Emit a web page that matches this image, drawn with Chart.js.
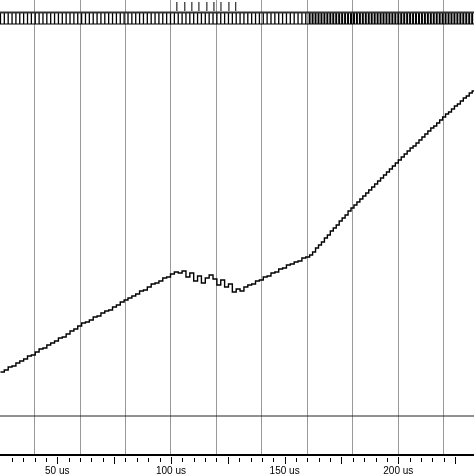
<!DOCTYPE html>
<html><head><meta charset="utf-8">
<script src="https://cdn.jsdelivr.net/npm/chart.js@4.4.1/dist/chart.umd.min.js"></script>
<style>html,body{margin:0;padding:0;background:#fff}canvas{display:block}</style>
</head><body>
<canvas id="c" width="474" height="474" style="width:474px;height:474px"></canvas>
<script>
// ---- data ----
const sampleTimes = [
  25.0, 26.7, 28.4, 30.1, 31.8, 33.5, 35.2, 36.9, 38.6, 40.3,
  42.0, 43.7, 45.4, 47.1, 48.8, 50.5, 52.2, 53.9, 55.6, 57.3,
  59.0, 60.7, 62.4, 64.1, 65.8, 67.5, 69.2, 70.9, 72.6, 74.3,
  76.0, 77.7, 79.4, 81.1, 82.8, 84.5, 86.2, 87.9, 89.6, 91.3,
  93.0, 94.7, 96.4, 98.1, 99.8, 101.5, 103.2, 104.9, 106.6, 108.3,
  110.0, 111.7, 113.4, 115.1, 116.8, 118.5, 120.2, 121.9, 123.6, 125.3,
  127.0, 128.7, 130.4, 132.1, 133.8, 135.5, 137.2, 138.9, 140.6, 142.3,
  144.0, 145.7, 147.4, 149.1, 150.8, 152.5, 154.2, 155.9, 157.6, 159.3,
  161.0, 162.3, 163.6, 164.9, 166.2, 167.5, 168.8, 170.1, 171.4, 172.7,
  174.0, 175.3, 176.6, 177.9, 179.2, 180.5, 181.8, 183.1, 184.4, 185.7,
  187.0, 188.3, 189.6, 190.9, 192.2, 193.5, 194.8, 196.1, 197.4, 198.7,
  200.0, 201.3, 202.6, 203.9, 205.2, 206.5, 207.8, 209.1, 210.4, 211.7,
  213.0, 214.3, 215.6, 216.9, 218.2, 219.5, 220.8, 222.1, 223.4, 224.7,
  226.0, 227.3, 228.6, 229.9, 231.2, 232.5, 233.8
];
const sampleValues = [
  83, 85, 88, 89, 92, 94, 96, 99, 100, 103,
  106, 107, 110, 112, 114, 117, 118, 121, 124, 126,
  129, 132, 133, 135, 138, 139, 142, 144, 145, 148,
  150, 153, 155, 157, 159, 161, 164, 165, 168, 171,
  172, 174, 177, 178, 181, 183, 182, 184, 178, 182,
  174, 179, 172, 177, 180, 176, 170, 175, 168, 171,
  163, 166, 164, 168, 170, 171, 174, 175, 178, 179,
  182, 183, 186, 187, 190, 191, 193, 194, 197, 198,
  200, 203, 207, 210, 213, 217, 220, 224, 227, 230,
  234, 237, 240, 244, 247, 250, 253, 256, 259, 262,
  265, 268, 271, 274, 277, 280, 283, 286, 289, 292,
  295, 298, 301, 304, 307, 309, 312, 315, 318, 321,
  324, 327, 329, 332, 335, 338, 341, 343, 346, 349,
  351, 354, 357, 359, 362, 364, 367
];
const markerTimes = [102.6, 106.1, 109.2, 112.3, 115.8, 118.9, 122.0, 125.5, 128.5];
const labelValues = [50, 100, 150, 200];
const tickLabels = ['50 us', '100 us', '150 us', '200 us'];
const xMin = 24.8, xMax = 233.3;
const yMin = 0, yMax = 455;
const baselineLevel = 39;
const busLow = 431, busHigh = 442.5;
const markerLow = 444, markerHigh = 453;
const denseFrom = 160;

// ---- build datasets ----
const stepLine = sampleTimes.map((t, i) => ({x: t, y: sampleValues[i]}));
function edges(times, lo, hi) {
  const out = [];
  times.forEach(t => { out.push({x: t, y: lo}, {x: t, y: hi}, {x: t, y: null}); });
  return out;
}
const busEdgesSparse = edges(sampleTimes.filter(t => t < denseFrom), busLow, busHigh);
const busEdgesDense = edges(sampleTimes.filter(t => t >= denseFrom), busLow, busHigh);
const markerEdges = edges(markerTimes, markerLow, markerHigh);
const hline = v => [{x: xMin, y: v}, {x: xMax, y: v}];

const base = {type: 'line', pointRadius: 0, spanGaps: false, fill: false, borderColor: '#000'};

const tallTicks = {
  id: 'tallTicks',
  afterDraw(chart) {
    const s = chart.scales.x, ctx = chart.ctx, b = chart.chartArea.bottom;
    ctx.save();
    ctx.strokeStyle = '#000';
    ctx.lineWidth = 1;
    s.ticks.forEach(t => {
      const px = Math.round(s.getPixelForValue(t.value)) + 0.5;
      const tall = Math.abs(t.value / 25 - Math.round(t.value / 25)) < 1e-6;
      ctx.beginPath();
      ctx.moveTo(px, b + (tall ? 2 : 3));
      ctx.lineTo(px, b + (tall ? 9 : 7));
      ctx.stroke();
    });
    ctx.restore();
  }
};

new Chart(document.getElementById('c'), {
  data: {
    datasets: [
      {...base, data: hline(busHigh), borderWidth: 2, borderColor: '#333'},
      {...base, data: hline(busLow), borderWidth: 1},
      {...base, data: busEdgesSparse, borderWidth: 1.3},
      {...base, data: busEdgesDense, borderWidth: 2},
      {...base, data: markerEdges, borderWidth: 1},
      {...base, data: hline(baselineLevel), borderWidth: 1, borderColor: '#222'},
      {...base, data: stepLine, borderWidth: 1.4, stepped: true}
    ]
  },
  options: {
    responsive: false,
    animation: false,
    events: [],
    layout: {padding: 0},
    plugins: {legend: {display: false}, tooltip: {enabled: false}},
    scales: {
      x: {
        type: 'linear', min: xMin, max: xMax, offset: false,
        border: {display: true, color: '#000', width: 2},
        grid: {
          offset: false, drawTicks: true, tickLength: 8,
          color: c => (c.tick && Math.abs(c.tick.value / 20 - Math.round(c.tick.value / 20)) < 1e-6) ? '#999' : 'rgba(0,0,0,0)',
          tickColor: 'rgba(0,0,0,0)', lineWidth: 1
        },
        afterBuildTicks: s => { s.ticks = s.ticks.filter(t => Math.abs(t.value / 5 - Math.round(t.value / 5)) < 1e-6); },
        afterFit: s => { s.height = 19; },
        ticks: {
          stepSize: 5, autoSkip: false, maxRotation: 0, minRotation: 0, padding: 3,
          color: '#000', font: {family: 'Liberation Sans', size: 10, lineHeight: 1},
          callback: v => { const i = labelValues.indexOf(Math.round(v)); return i >= 0 ? tickLabels[i] : ''; }
        }
      },
      y: {type: 'linear', min: yMin, max: yMax, display: false}
    }
  },
  plugins: [tallTicks]
});
</script>
</body></html>
